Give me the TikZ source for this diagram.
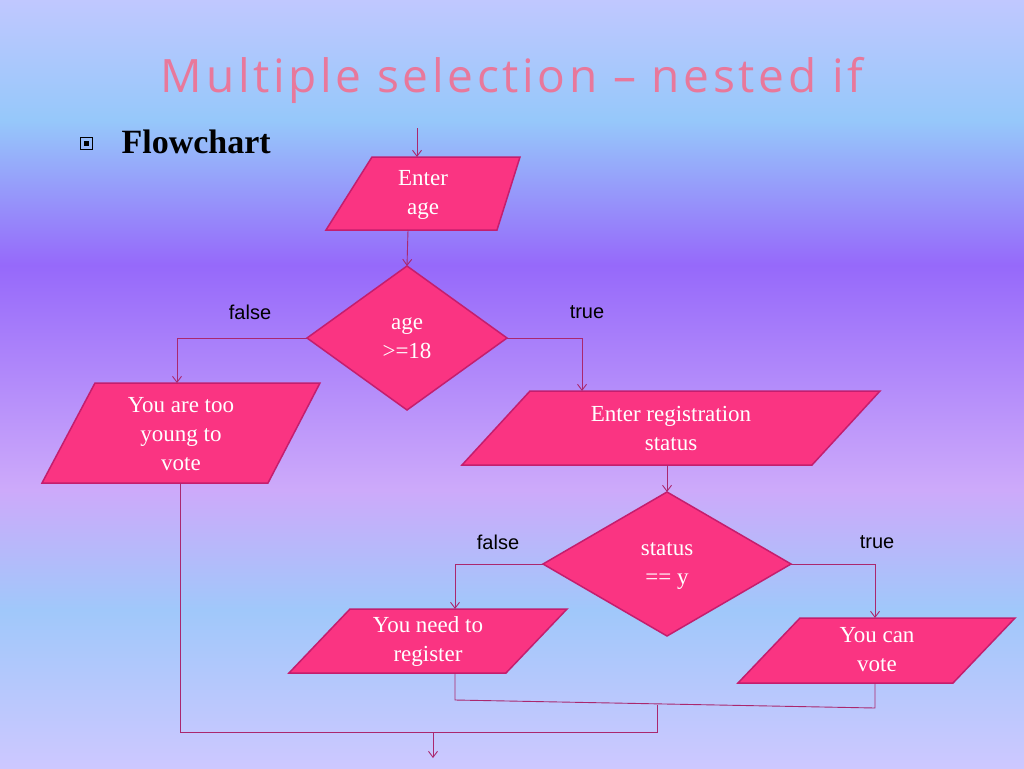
\documentclass[tikz,border=0pt]{standalone}
\usepackage{fontspec}
\setmainfont{Liberation Serif}
\newfontfamily\lab{Liberation Sans}
\newfontfamily\ttl[LetterSpace=8]{Open Sans}
\usetikzlibrary{arrows.meta}
\definecolor{boxfill}{RGB}{250,52,130}
\definecolor{boxline}{RGB}{196,30,110}
\definecolor{conn}{RGB}{170,40,110}
\definecolor{ttlc}{RGB}{232,120,155}
\begin{document}
\begin{tikzpicture}[x=1pt,y=-1pt,
  shp/.style={fill=boxfill,draw=boxline,line width=1.5pt,line join=miter},
  txt/.style={text=white,font=\fontsize{23}{29}\selectfont,align=center},
  lbl/.style={font=\lab\fontsize{20}{24}\selectfont},
  cn/.style={draw=conn,line width=0.9pt},
  ar/.style={cn,-{Straight Barb[length=6pt,width=9pt]}}]
\useasboundingbox (0,0) rectangle (1024,768);
\shade[top color={rgb,255:red,192;green,200;blue,255},bottom color={rgb,255:red,150;green,200;blue,250}] (0,0) rectangle (1024,120);
\shade[top color={rgb,255:red,150;green,200;blue,250},bottom color={rgb,255:red,150;green,105;blue,250}] (0,120) rectangle (1024,265);
\shade[top color={rgb,255:red,150;green,105;blue,250},bottom color={rgb,255:red,205;green,170;blue,250}] (0,265) rectangle (1024,490);
\shade[top color={rgb,255:red,205;green,170;blue,250},bottom color={rgb,255:red,160;green,200;blue,250}] (0,490) rectangle (1024,610);
\shade[top color={rgb,255:red,160;green,200;blue,250},bottom color={rgb,255:red,205;green,200;blue,255}] (0,610) rectangle (1024,768);
\node[font=\ttl\fontsize{46}{50}\selectfont,text=ttlc] (title) at (512,80) {Multiple selection – nested if};
\draw[line width=1pt] (80,137) rectangle (92,149);
\fill (83.5,140.5) rectangle (88.5,145.5);
\node[font=\bfseries\fontsize{34}{40}\selectfont,anchor=west] (fc) at (118,142) {Flowchart};
% shapes
\draw[shp] (372,157)--(520,157)--(497,230)--(326,230)--cycle;
\node[txt] (ea) at (423,195) {Enter\\age};
\draw[shp] (407,266)--(507,338)--(407,410)--(307,338)--cycle;
\node[txt] (d1) at (407,338) {age\\>=18};
\draw[shp] (95,383)--(320,383)--(268,483)--(42,483)--cycle;
\node[txt] (ty) at (181,434) {You are too\\young to\\vote};
\draw[shp] (530,391)--(880,391)--(812,465)--(462,465)--cycle;
\node[txt] (er) at (671,428) {Enter registration\\status};
\draw[shp] (667,492)--(791,564)--(667,636)--(543,564)--cycle;
\node[txt] (d2) at (667,566) {status\\== y};
\draw[shp] (350,609)--(567,609)--(506,673)--(289,673)--cycle;
\node[txt] (nr) at (428,641) {You need to\\register};
\draw[shp] (800,618)--(1015,618)--(953,683)--(738,683)--cycle;
\node[txt] (cv) at (877,650) {You can\\vote};
% coordinates
\coordinate (s0) at (417,128); \coordinate (eaT) at (417,157);
\coordinate (eaB) at (408,230); \coordinate (d1T) at (407,266);
\coordinate (d1L) at (307,338); \coordinate (d1R) at (507,338);
\coordinate (tyT) at (177,383); \coordinate (erT) at (582,391);
\coordinate (erB) at (667,465); \coordinate (d2T) at (667,492);
\coordinate (d2L) at (543,564); \coordinate (d2R) at (791,564);
\coordinate (nrT) at (455,609); \coordinate (cvT) at (875,618);
\coordinate (nrB) at (455,673); \coordinate (cvB) at (875,683);
\coordinate (tyB) at (180,483); \coordinate (mj) at (657,705);
\coordinate (end) at (433,758);
\draw[ar] (s0)--(eaT);
\draw[ar] (eaB)--(d1T);
\draw[ar] (d1L)-|(tyT);
\draw[ar] (d1R)-|(erT);
\draw[ar] (erB)--(d2T);
\draw[ar] (d2L)-|(nrT);
\draw[ar] (d2R)-|(cvT);
\draw[cn] (nrB)--(455,700)--(875,708)--(cvB);
\draw[cn] (mj)--(657,732)--(tyB|-0,732)--(tyB);
\draw[ar] (433,732)--(end);
\node[lbl] (f1) at (250,312) {false};
\node[lbl] (t1) at (587,312) {true};
\node[lbl] (f2) at (498,542) {false};
\node[lbl] (t2) at (877,542) {true};
\end{tikzpicture}
\end{document}
